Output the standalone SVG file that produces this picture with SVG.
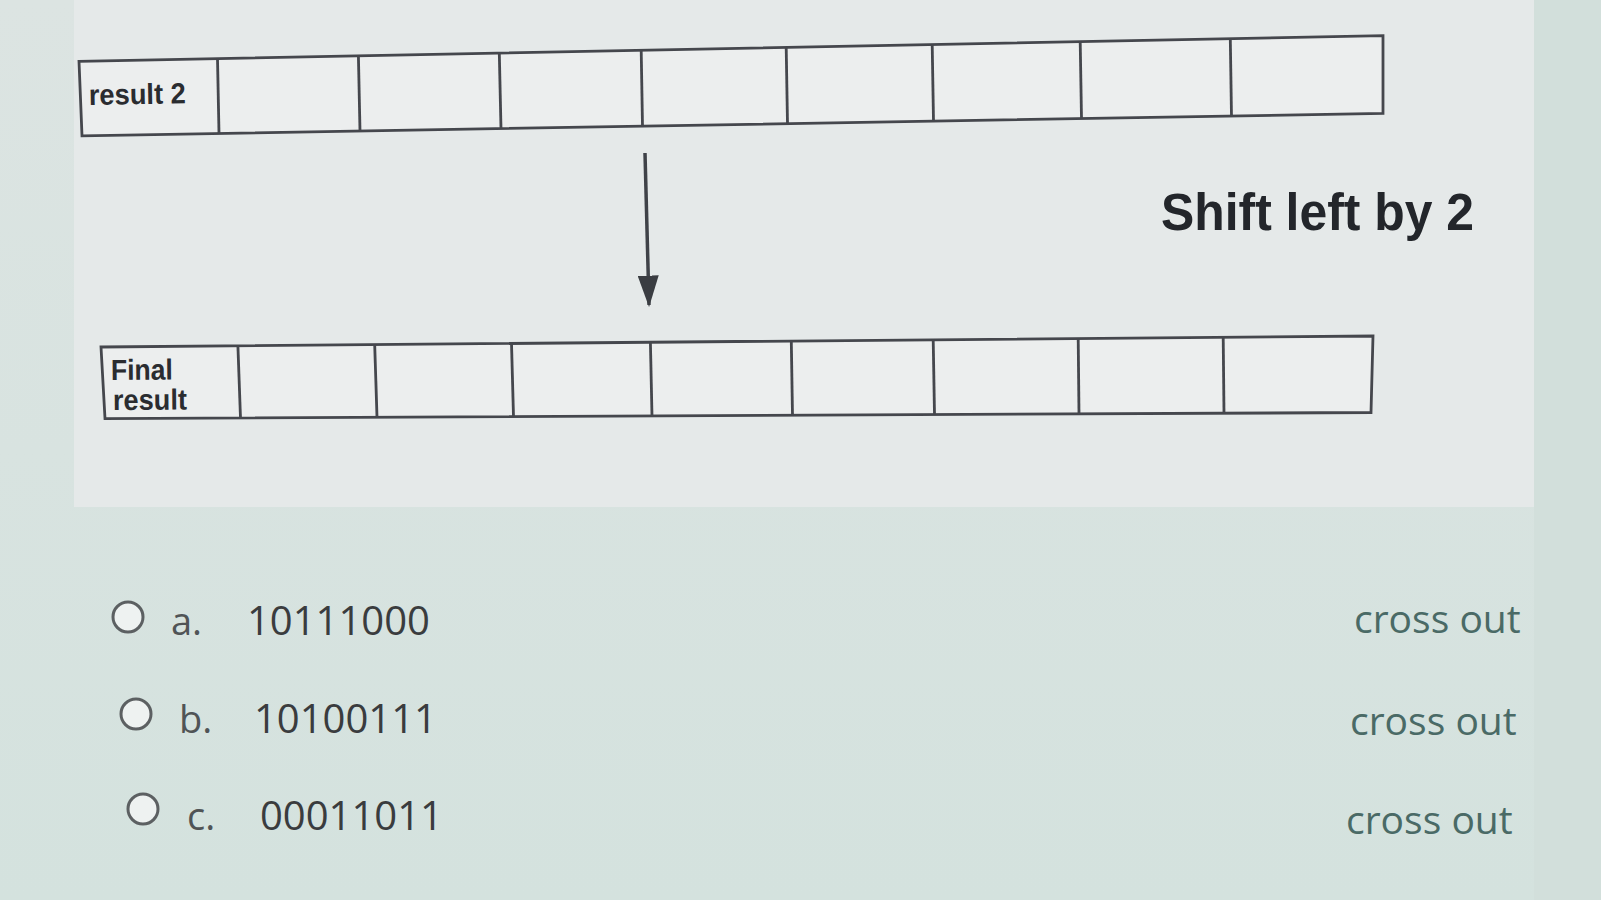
<svg xmlns="http://www.w3.org/2000/svg" width="1601" height="900" viewBox="0 0 1601 900">
<defs>
<linearGradient id="bg" x1="0" y1="0" x2="0" y2="1">
<stop offset="0" stop-color="#dce4e2"/>
<stop offset="1" stop-color="#d4e2de"/>
</linearGradient>
<marker id="ah" viewBox="0 0 15 10" refX="14" refY="5" markerWidth="9" markerHeight="6" orient="auto" markerUnits="strokeWidth">
<path d="M0,0 L15,5 L0,10 Z" fill="#3a3d42"/>
</marker>
<style>
.cell{fill:#eceeee;stroke:#45474d;stroke-width:2.8;stroke-linejoin:miter}
.div{stroke:#45474d;stroke-width:2.8}
.lbl{font-family:"Liberation Sans",Arial,sans-serif;font-weight:bold;font-size:29px;fill:#2a2c30}
.title{font-family:"Liberation Sans",Arial,sans-serif;font-weight:bold;font-size:51px;fill:#23262b}
.opt{font-family:"Open Sans","Noto Sans",sans-serif;font-size:40px;fill:#3a3c3e}
.let{font-family:"Open Sans","Noto Sans",sans-serif;font-size:38px;fill:#505456}
.co{font-family:"Open Sans","Noto Sans",sans-serif;font-size:39px;fill:#4a6a66}
.radio{fill:#eef2f1;stroke:#5c6062;stroke-width:3}
</style>
</defs>
<rect x="0" y="0" width="1601" height="900" fill="url(#bg)"/>
<rect x="74" y="0" width="1460" height="507" fill="#e5e9e9"/>
<rect x="1534" y="0" width="67" height="900" fill="#d2dfdb"/>

<g id="result2-row">
<polygon class="cell" points="79,61.3 1383,35.7 1383,113.4 82,135.8"/>
<line class="div" x1="217.5" y1="58.6" x2="219" y2="133.5"/>
<line class="div" x1="358.4" y1="55.8" x2="360" y2="131"/>
<line class="div" x1="499.3" y1="53" x2="501" y2="128.6"/>
<line class="div" x1="641.2" y1="50.3" x2="642.5" y2="126.2"/>
<line class="div" x1="786.2" y1="47.4" x2="787.5" y2="123.7"/>
<line class="div" x1="932.2" y1="44.6" x2="933.5" y2="121.1"/>
<line class="div" x1="1080.2" y1="41.6" x2="1081.5" y2="118.6"/>
<line class="div" x1="1230.3" y1="38.7" x2="1231.5" y2="116"/>
<text class="lbl" x="89" y="105" textLength="97" lengthAdjust="spacingAndGlyphs" transform="rotate(-1.1 89 105)">result 2</text>
</g>

<g id="final-row">
<polygon class="cell" points="101,347 1373,336 1371,412.5 105,418.6"/>
<line class="div" x1="237.9" y1="345.8" x2="240.5" y2="418"/>
<line class="div" x1="374.7" y1="344.6" x2="377" y2="417.3"/>
<line class="div" x1="511.5" y1="343.4" x2="513.5" y2="416.6"/>
<line class="div" x1="650.4" y1="342.2" x2="652" y2="416"/>
<line class="div" x1="791.3" y1="341" x2="792.5" y2="415.3"/>
<line class="div" x1="933.2" y1="339.8" x2="934.5" y2="414.6"/>
<line class="div" x1="1078.2" y1="338.5" x2="1079" y2="413.9"/>
<line class="div" x1="1223.2" y1="337.3" x2="1224" y2="413.2"/>
<text class="lbl" x="111" y="380" textLength="62" lengthAdjust="spacingAndGlyphs" transform="rotate(-0.5 111 380)">Final</text>
<text class="lbl" x="113" y="410" textLength="74" lengthAdjust="spacingAndGlyphs" transform="rotate(-0.5 113 410)">result</text>
</g>

<g id="connectors">
<line x1="645" y1="153" x2="649" y2="305" stroke="#3f4248" stroke-width="3.5" marker-end="url(#ah)"/>
</g>

<g id="shift-label">
<text class="title" x="1161" y="230" textLength="313" lengthAdjust="spacingAndGlyphs">Shift left by 2</text>
</g>

<g id="option-a">
<circle class="radio" cx="128" cy="617" r="15"/>
<text class="let" x="171" y="635">a.</text>
<text class="opt" x="247" y="635">10111000</text>
<text class="co" x="1354" y="633">cross out</text>
</g>
<g id="option-b">
<circle class="radio" cx="136" cy="714" r="15"/>
<text class="let" x="179" y="733">b.</text>
<text class="opt" x="254" y="733">10100111</text>
<text class="co" x="1350" y="735">cross out</text>
</g>
<g id="option-c">
<circle class="radio" cx="143" cy="809" r="15"/>
<text class="let" x="187" y="830">c.</text>
<text class="opt" x="260" y="830">00011011</text>
<text class="co" x="1346" y="834">cross out</text>
</g>
</svg>
